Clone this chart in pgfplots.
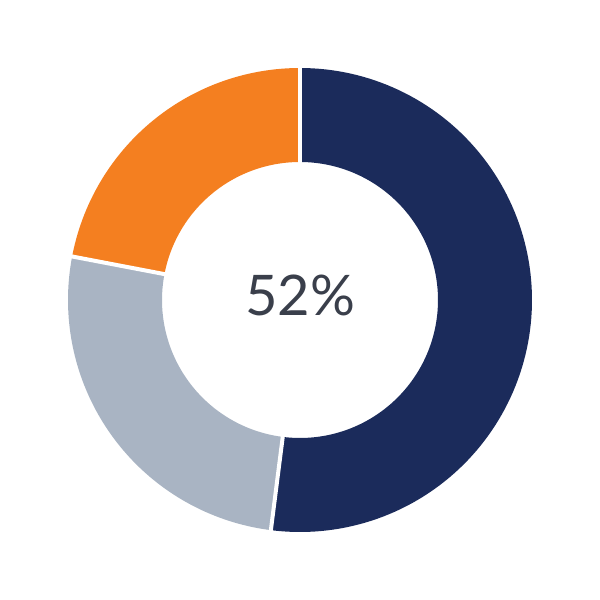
\documentclass[border=0pt]{standalone}
\usepackage{pgfplots}
\pgfplotsset{compat=1.18}
\usepackage{fontspec}
\setmainfont{Lato}
\definecolor{navy}{HTML}{1B2B5B}
\definecolor{slate}{HTML}{A9B4C3}
\definecolor{orng}{HTML}{F47F20}
\definecolor{txt}{HTML}{3A3F4B}
\begin{document}
\begin{tikzpicture}
\begin{axis}[
  x=0.5pt, y=0.5pt,
  xmin=-300, xmax=300, ymin=-300, ymax=300,
  hide axis, clip=false,
]
\addplot[draw=none] coordinates {(-300,-300) (300,300)};
% values: 52, 26, 22 (percent) -> angles 187.2, 93.6, 79.2 degrees, clockwise from top
\addplot[navy, line width=47pt, domain=-97.2:90, samples=120, variable=\t] ({185*cos(\t)},{185*sin(\t)});
\addplot[slate, line width=47pt, domain=-190.8:-97.2, samples=80, variable=\t] ({185*cos(\t)},{185*sin(\t)});
\addplot[orng, line width=47pt, domain=-270:-190.8, samples=80, variable=\t] ({185*cos(\t)},{185*sin(\t)});
% white separators
\addplot[white, line width=2pt] coordinates {(0,128) (0,242)};
\addplot[white, line width=2pt] coordinates {(-16.0,-127.0) (-30.4,-240.1)};
\addplot[white, line width=2pt] coordinates {(-125.7,24.0) (-237.7,45.4)};
\node[text=txt, font=\fontsize{28}{32}\selectfont] at (axis cs:0,5) {52\%};
\end{axis}
\end{tikzpicture}
\end{document}
